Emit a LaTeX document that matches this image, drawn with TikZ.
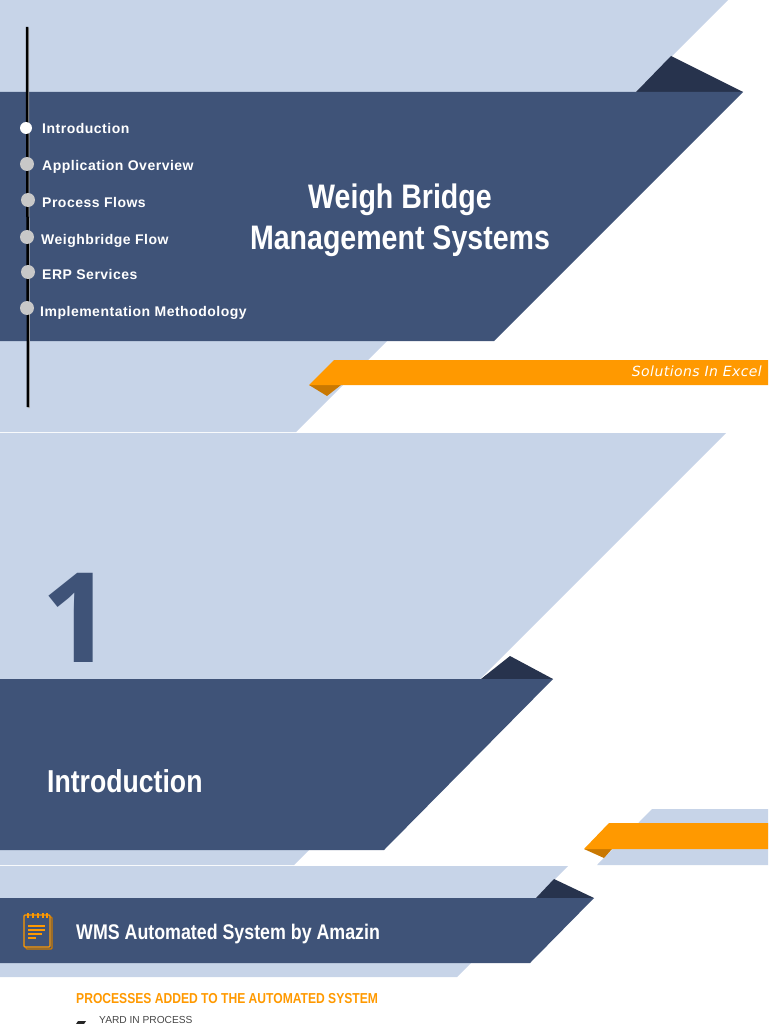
\documentclass[tikz,border=0pt]{standalone}
\usepackage{fontspec}
\setmainfont{Liberation Sans}
\newfontfamily\headfont[FakeStretch=0.84]{Liberation Sans}
\newfontfamily\menufont[LetterSpace=3.6]{Liberation Sans}
\newfontfamily\handfont[LetterSpace=3]{DejaVu Sans}
\newfontfamily\numfont{Open Sans}
\definecolor{lightblue}{RGB}{199, 212, 232}
\definecolor{navy}{RGB}{63, 83, 120}
\definecolor{darknavy}{RGB}{39, 51, 77}
\definecolor{ribbon}{RGB}{255, 153, 0}
\definecolor{ribbondark}{RGB}{201, 120, 2}
\definecolor{dotgray}{RGB}{200, 200, 200}
\definecolor{textgray}{RGB}{70, 70, 70}
\tikzset{
    menudot/.style={circle, fill=dotgray, inner sep=0pt, minimum size=14pt},
    menutext/.style={anchor=base west, inner sep=0pt, text=white, font=\menufont\bfseries\fontsize{14}{14}\selectfont},
    headtext/.style={text=white, font=\headfont\bfseries\fontsize{34}{41}\selectfont, align=center},
    bartext/.style={anchor=base west, inner sep=0pt, text=white, font=\headfont\bfseries\fontsize{21.2}{22}\selectfont}
}
\begin{document}
\begin{tikzpicture}[x=1pt, y=-1pt]
            \useasboundingbox (0,0) rectangle (768,1024);
            \clip (0,0) rectangle (768,1024);
            % first slide
            \fill[lightblue]  (0,0) -- (728,0) -- (296,432) -- (0,432) -- cycle;
            \fill[darknavy]   (636,92) -- (671,56) -- (743,92) -- cycle;
            \fill[navy]       (0,92) -- (743,92) -- (494,341) -- (0,341) -- cycle;
            \fill[ribbondark] (309,385) -- (327,396) -- (341,385) -- cycle;
            \fill[ribbon]     (334,360) -- (768,360) -- (768,385) -- (309,385) -- cycle;
            \coordinate (railtop) at (27,27);
            \coordinate (railbot) at (28,407);
            \draw[black!30, line width=2pt] ([xshift=1pt, yshift=-1pt]railtop) -- ([xshift=1pt, yshift=-1pt]railbot);
            \draw[black, line width=2.5pt] (railtop) -- (railbot);
            \node[menudot, fill=white, minimum size=12pt] (dota) at (26,128) {};
            \node[menudot] (dotb) at (27,164) {};
            \node[menudot] (dotc) at (28,200) {};
            \node[menudot] (dotd) at (27,237) {};
            \node[menudot] (dote) at (28,272) {};
            \node[menudot] (dotf) at (27,308) {};
            \node[menutext] (intro)   at (42,134) {Introduction};
            \node[menutext] (appover) at (42,171) {Application Overview};
            \node[menutext] (process) at (42,208) {Process Flows};
            \node[menutext] (weigh)   at (41,244) {Weighbridge Flow};
            \node[menutext] (erp)     at (42,279) {ERP Services};
            \node[menutext] (method)  at (40,316) {Implementation Methodology};
            \node[headtext] (title) at (400,220.5) {Weigh Bridge\\Management Systems};
            \node[anchor=east, inner sep=0pt, text=white, font=\handfont\itshape\fontsize{14}{14}\selectfont] (tag) at (762,371) {Solutions In Excel};
            % second slide
            \fill[lightblue]  (0,433) -- (726,433) -- (294,865) -- (0,865) -- cycle;
            \fill[darknavy]   (481,679) -- (510,656) -- (553,679) -- cycle;
            \fill[navy]       (0,679) -- (553,679) -- (384,850) -- (0,850) -- cycle;
            \fill[lightblue]  (652,809) -- (768,809) -- (768,865) -- (597,865) -- cycle;
            \fill[ribbondark] (584,849) -- (604,858) -- (612,849) -- cycle;
            \fill[ribbon]     (609,823) -- (768,823) -- (768,849) -- (584,849) -- cycle;
            \node[anchor=base, inner sep=0pt, text=navy, font=\numfont\bfseries\fontsize{125}{125}\selectfont] (number) at (77,662) {1};
            \node[bartext, font=\headfont\bfseries\fontsize{31.7}{33}\selectfont] (section) at (47,792) {Introduction};
            % third slide
            \fill[lightblue]  (0,866) -- (568,866) -- (457,977) -- (0,977) -- cycle;
            \fill[darknavy]   (536,898) -- (554,879) -- (594,898) -- cycle;
            \fill[navy]       (0,898) -- (594,898) -- (530,963) -- (0,963) -- cycle;
            \draw[ribbon!80!black, line width=1.2pt, rounded corners=1pt] (26,917) rectangle (52,949);
            \filldraw[draw=ribbon, fill=navy, line width=1.2pt, rounded corners=1pt] (24,915) rectangle (50,947);
            \foreach \i in {28,33,38,43,47}
                \draw[ribbon, line width=1.4pt] (\i,913) -- (\i,918);
            \draw[ribbon, line width=1.2pt] (28,926) -- (45,926) (28,930) -- (45,930) (28,934) -- (42,934) (28,938) -- (36,938);
            \node[bartext] (wms) at (76,939) {WMS Automated System by Amazin};
            \node[anchor=base west, inner sep=0pt, text=ribbon, font=\headfont\bfseries\fontsize{14.4}{15}\selectfont] (added) at (76,1003) {PROCESSES ADDED TO THE AUTOMATED SYSTEM};
            \node[anchor=base west, inner sep=0pt, text=textgray, font=\fontsize{10.2}{10.2}\selectfont] (yard) at (99,1023.5) {YARD IN PROCESS};
            \fill[black!85] (78,1021) -- (86,1021) -- (84,1024) -- (76,1024) -- cycle;
\end{tikzpicture}
\end{document}
